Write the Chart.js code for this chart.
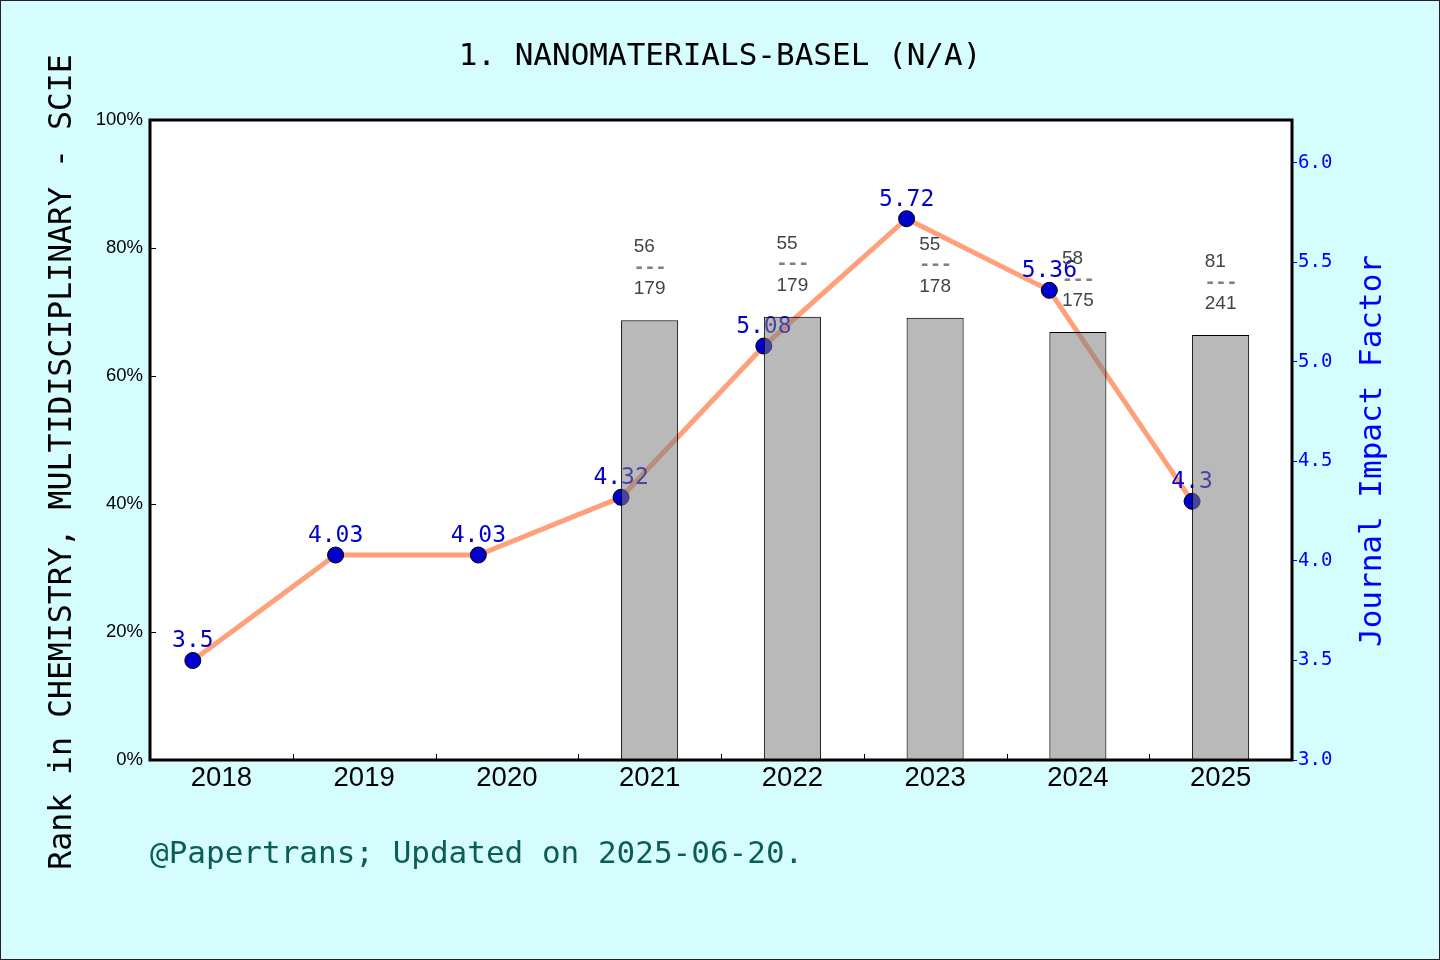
<!DOCTYPE html>
<html>
<head>
<meta charset="utf-8">
<script src="https://cdn.jsdelivr.net/npm/chart.js@4.4.1/dist/chart.umd.min.js"></script>
<style>
  body { margin: 0; background: #d6fdfd; }
  canvas { display: block; }
</style>
</head>
<body>
<canvas id="chart1" width="1440" height="960"></canvas>
<script>
const years = ['2018', '2019', '2020', '2021', '2022', '2023', '2024', '2025'];
const impactFactor = [3.5, 4.03, 4.03, 4.32, 5.08, 5.72, 5.36, 4.3];
const rankInCategory = [null, null, null, 56, 55, 55, 58, 81];
const journalsInCategory = [null, null, null, 179, 179, 178, 175, 241];

// bar height = share of the category ranked below the journal
const rankShare = rankInCategory.map((r, i) => r == null ? null : 1 - r / journalsInCategory[i]);

const MONO = '"DejaVu Sans Mono", monospace';
const SANS = '"Liberation Sans", Arial, sans-serif';

const decor = {
  id: 'decor',
  beforeDraw(chart) {
    const { ctx, chartArea: a } = chart;
    ctx.save();
    ctx.fillStyle = '#d6fdfd';
    ctx.fillRect(0, 0, chart.width, chart.height);
    ctx.fillStyle = '#fff';
    ctx.fillRect(a.left, a.top, a.right - a.left, a.bottom - a.top);
    ctx.restore();
  },
  afterDatasetDraw(chart, args) {
    // impact factor labels go under the bars, like the original
    if (args.index !== 1) return;
    const { ctx } = chart;
    ctx.save();
    ctx.font = '23px ' + MONO;
    ctx.fillStyle = '#0000cd';
    ctx.textAlign = 'center';
    ctx.textBaseline = 'alphabetic';
    args.meta.data.forEach((pt, i) => {
      ctx.fillText(String(impactFactor[i]), pt.x, pt.y - 13);
    });
    ctx.restore();
  },
  afterDraw(chart) {
    const { ctx, chartArea: a } = chart;
    const xs = chart.scales.x, ys = chart.scales.y;
    ctx.save();

    // rank labels above the bars
    ctx.textBaseline = 'middle';
    ctx.textAlign = 'left';
    chart.getDatasetMeta(0).data.forEach((bar, i) => {
      if (rankInCategory[i] == null) return;
      const top = String(rankInCategory[i]), bottom = String(journalsInCategory[i]);
      ctx.font = '19px ' + SANS;
      const w = Math.max(ctx.measureText(top).width, ctx.measureText(bottom).width);
      const x0 = bar.x - w / 2;
      ctx.fillStyle = '#444';
      ctx.fillText(top, x0, bar.y - 73);
      ctx.fillText(bottom, x0, bar.y - 31);
      ctx.font = 'bold 18px ' + MONO;
      ctx.fillStyle = '#808080';
      ctx.fillText('---', x0, bar.y - 52);
    });

    // plot frame
    ctx.strokeStyle = '#000';
    ctx.lineWidth = 3;
    ctx.strokeRect(a.left, a.top, a.right - a.left, a.bottom - a.top);

    // inward tick marks
    ctx.lineWidth = 1;
    ys.ticks.forEach(t => {
      const y = Math.round(ys.getPixelForValue(t.value)) + 0.5;
      ctx.beginPath();
      ctx.moveTo(a.left, y);
      ctx.lineTo(a.left + 6, y);
      ctx.stroke();
    });
    for (let k = 0; k < years.length - 1; k++) {
      const x = Math.round(xs.getPixelForValue(k + 0.5)) + 0.5;
      ctx.beginPath();
      ctx.moveTo(x, a.bottom);
      ctx.lineTo(x, a.bottom - 6);
      ctx.stroke();
    }

    // texts
    ctx.font = '31px ' + MONO;
    ctx.textBaseline = 'middle';
    ctx.textAlign = 'center';
    ctx.fillStyle = '#000';
    ctx.fillText('1. NANOMATERIALS-BASEL (N/A)', 720, 57);

    ctx.save();
    ctx.translate(63, 462);
    ctx.rotate(-Math.PI / 2);
    ctx.font = '31.5px ' + MONO;
    ctx.fillText('Rank in CHEMISTRY, MULTIDISCIPLINARY - SCIE', 0, 0);
    ctx.restore();

    ctx.save();
    ctx.translate(1373, 451);
    ctx.rotate(-Math.PI / 2);
    ctx.fillStyle = '#0000ff';
    ctx.fillText('Journal Impact Factor', 0, 0);
    ctx.restore();

    ctx.textAlign = 'left';
    ctx.fillStyle = '#0b5e57';
    ctx.fillText('@Papertrans; Updated on 2025-06-20.', 150, 855);

    // figure edge
    ctx.strokeStyle = '#222';
    ctx.lineWidth = 1;
    ctx.strokeRect(0.5, 0.5, chart.width - 1, chart.height - 1);
    ctx.restore();
  }
};

const ctx1 = document.getElementById('chart1').getContext('2d');

new Chart(ctx1, {
  data: {
    labels: years,
    datasets: [{
      type: 'bar',
      data: rankShare,
      xAxisID: 'x',
      yAxisID: 'y',
      backgroundColor: 'rgba(128,128,128,0.55)',
      borderColor: '#000',
      borderWidth: 1,
      grouped: false,
      barPercentage: 0.4,
      categoryPercentage: 1,
      order: 0 // drawn on top of the line
    }, {
      type: 'line',
      data: impactFactor.map((v, i) => ({ x: i - 0.2, y: v })),
      xAxisID: 'xLine',
      yAxisID: 'y2',
      borderColor: '#ffa07a',
      borderWidth: 5,
      pointRadius: 8,
      pointBackgroundColor: '#0000cd',
      pointBorderColor: '#000',
      pointBorderWidth: 1,
      tension: 0,
      order: 1
    }]
  },
  options: {
    responsive: false,
    devicePixelRatio: 1,
    animation: false,
    layout: { padding: { top: 120, bottom: 160, left: 0, right: 0 } },
    plugins: {
      legend: { display: false },
      tooltip: { enabled: false }
    },
    scales: {
      x: {
        type: 'category',
        offset: true,
        grid: { display: false, offset: true, drawTicks: false },
        border: { display: false },
        ticks: { color: '#000', font: { family: SANS, size: 27.5 }, padding: 2, maxRotation: 0 },
        afterFit(s) { s.height = 40; }
      },
      xLine: { type: 'linear', display: false, min: -0.5, max: years.length - 0.5 },
      y: {
        position: 'left',
        min: 0,
        max: 1,
        ticks: {
          stepSize: 0.2,
          color: '#000',
          font: { family: SANS, size: 18.5 },
          padding: 7,
          callback: v => Math.round(v * 100) + '%'
        },
        grid: { display: false, drawTicks: false },
        border: { display: false },
        afterFit(s) { s.width = 150; }
      },
      y2: {
        position: 'right',
        min: 3,
        max: 6.216,
        ticks: {
          stepSize: 0.5,
          includeBounds: false,
          color: '#0000ff',
          font: { family: MONO, size: 19 },
          padding: 1,
          callback: v => v.toFixed(1)
        },
        grid: { drawOnChartArea: false, color: '#0000ff', tickLength: 5 },
        border: { display: false },
        afterFit(s) { s.width = 148; }
      }
    }
  },
  plugins: [decor]
});
</script>
</body>
</html>
